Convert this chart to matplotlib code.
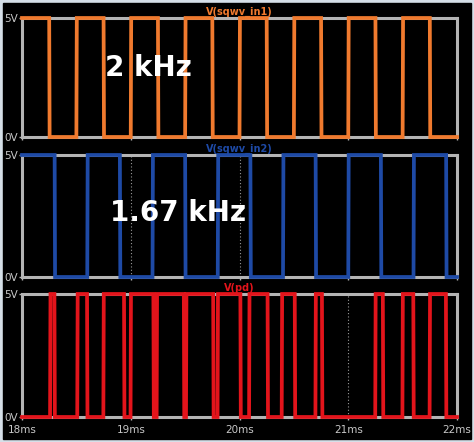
import numpy as np
import matplotlib.pyplot as plt
from matplotlib.patches import Rectangle

# toggle times (ms), all traces start at 18 ms
in1_start = 5
in1_toggles = [18.25, 18.50, 18.75, 19.00, 19.25, 19.50, 19.75, 20.00, 20.25, 20.50,
               20.75, 21.00, 21.25, 21.50, 21.75]
in2_start = 5
in2_toggles = [18.30, 18.60, 18.90, 19.20, 19.50, 19.80, 20.10, 20.40, 20.70, 21.00,
               21.30, 21.60, 21.90]
pd_high = [(18.26, 18.30), (18.51, 18.60), (18.75, 18.94), (19.00, 19.21),
           (19.24, 19.49), (19.51, 19.76), (19.80, 20.01), (20.09, 20.26),
           (20.39, 20.51), (20.70, 20.76), (21.25, 21.32), (21.50, 21.60),
           (21.75, 21.90)]
xticks = [18, 19, 20, 21, 22]
xlabels = ["18ms", "19ms", "20ms", "21ms", "22ms"]

RISE = 0.004
def wave(start, toggles, t0=18.0, t1=22.0):
    x, y = [t0], [start]
    v = start
    for t in toggles:
        x += [t, t + RISE]; y += [v, 5 - v]; v = 5 - v
    x.append(t1); y.append(v)
    return x, y

def pulses(high, t0=18.0, t1=22.0):
    x, y = [t0], [0]
    for a, b in high:
        x += [a - RISE / 2, a + RISE / 2, b - RISE / 2, b + RISE / 2]
        y += [0, 5, 5, 0]
    x.append(t1); y.append(0)
    return x, y

W, H = 474, 442
fig = plt.figure(figsize=(W / 100, H / 100), dpi=100, facecolor="#d5dfe8")
fig.patches.append(Rectangle((3 / W, 3 / H), (W - 6) / W, (H - 6) / H,
                             transform=fig.transFigure, color="black", zorder=-10))

panels = [
    (18, 137, "V(sqwv_in1)", "#f07a2e", wave(in1_start, in1_toggles), []),
    (155, 277, "V(sqwv_in2)", "#1e4aa6", wave(in2_start, in2_toggles), [19, 20]),
    (294, 417, "V(pd)", "#e3141b", pulses(pd_high), [21]),
]
for top, bot, name, col, (x, y), grid in panels:
    ax = fig.add_axes([22 / W, 1 - bot / H, 435 / W, (bot - top) / H])
    ax.set_facecolor("black")
    for g in grid:
        ax.axvline(g, color="#9a9a9a", lw=0.8, ls=(0, (1, 2)), zorder=1)
    ax.plot(x, y, color=col, lw=2.7, clip_on=False, zorder=3,
            solid_joinstyle="miter")
    ax.set_xlim(18, 22); ax.set_ylim(0, 5)
    for s in ax.spines.values():
        s.set_color("#b4b4b4"); s.set_linewidth(2.2)
    ax.set_yticks([0, 5]); ax.set_yticklabels(["0V", "5V"])
    ax.tick_params(colors="#b4b4b4", labelcolor="#c8c8c8", labelsize=7.5,
                   length=2, width=1, pad=1)
    ax.tick_params(axis="x", pad=4)
    ax.set_xticks(xticks)
    ax.set_xticklabels(xlabels if name == "V(pd)" else [])
    ax.text(0.5, 1.005, name, transform=ax.transAxes, ha="center", va="bottom",
            color=col, fontsize=7, fontweight="bold")

fig.text(148 / W, 1 - 68 / H, "2 kHz", color="white", fontsize=20,
         fontweight="bold", ha="center", va="center")
fig.text(178 / W, 1 - 213 / H, "1.67 kHz", color="white", fontsize=20,
         fontweight="bold", ha="center", va="center")

fig.savefig("out.png", dpi=100, facecolor=fig.get_facecolor())
